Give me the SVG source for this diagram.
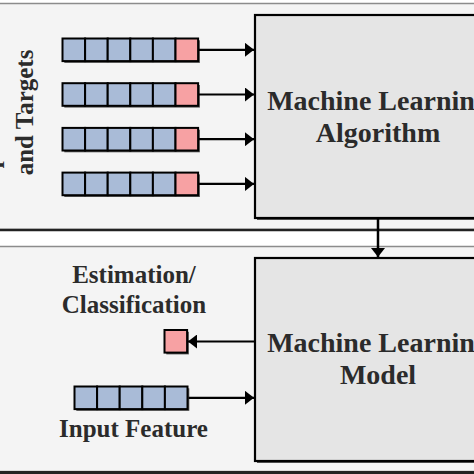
<svg xmlns="http://www.w3.org/2000/svg" width="474" height="474" viewBox="0 0 474 474">
<defs>
<style>
.panel{fill:#f4f4f4;stroke:#8c8c8c;stroke-width:1.5}
.pshadow{stroke:#222;stroke-width:2.5}
.box{fill:#e5e5e5;stroke:#000;stroke-width:2.2}
.cb{fill:#a9bbd7;stroke:#000;stroke-width:2}
.cr{fill:#f7a1a3;stroke:#000;stroke-width:2}
.sh{fill:#555}
.conn{stroke:#000;stroke-width:2.2;fill:none}
.t{font-family:"Liberation Serif","Times New Roman",serif;font-weight:bold;fill:#2b2b2b;text-anchor:middle}
.big{font-size:28px}
.sm{font-size:25px}
</style>
<marker id="ah" viewBox="0 0 10 10" refX="10" refY="5" markerWidth="9" markerHeight="14" markerUnits="userSpaceOnUse" orient="auto" preserveAspectRatio="none">
<path d="M0,0 L10,5 L0,10 Z" fill="#000"/>
</marker>
<g id="cell6">
<rect class="sh" x="1.8" y="1.8" width="135.6" height="22.6"/>
<rect class="cb" x="0" y="0" width="22.6" height="22.6"/>
<rect class="cb" x="22.6" y="0" width="22.6" height="22.6"/>
<rect class="cb" x="45.2" y="0" width="22.6" height="22.6"/>
<rect class="cb" x="67.8" y="0" width="22.6" height="22.6"/>
<rect class="cb" x="90.4" y="0" width="22.6" height="22.6"/>
<rect class="cr" x="113" y="0" width="22.6" height="22.6"/>
</g>
</defs>
<rect x="0" y="0" width="474" height="474" fill="#fff"/>
<g id="panel-training">
<rect class="panel" x="-10" y="3.5" width="494" height="226"/>
<line class="pshadow" x1="-10" y1="230" x2="484" y2="230"/>
<text class="t sm" transform="translate(-1.5,112.5) rotate(-90)">Input Features</text>
<text class="t sm" transform="translate(33,112.5) rotate(-90)">and Targets</text>
</g>
<g id="panel-inference">
<rect class="panel" x="-10" y="246.5" width="494" height="225"/>
<line class="pshadow" x1="-10" y1="473" x2="484" y2="473" style="stroke-width:4"/>
</g>
<g id="rows">
<use href="#cell6" x="62.5" y="38.5"/>
<use href="#cell6" x="62.5" y="83.2"/>
<use href="#cell6" x="62.5" y="127.9"/>
<use href="#cell6" x="62.5" y="172.6"/>
</g>
<g id="algorithm">
<rect class="sh" x="257" y="17" width="230" height="203"/>
<rect class="box" x="255" y="15" width="230" height="203"/>
<text class="t big" x="378" y="110">Machine Learning</text>
<text class="t big" x="378" y="141.5">Algorithm</text>
</g>
<g id="model">
<rect class="sh" x="257" y="260" width="230" height="203"/>
<rect class="box" x="255" y="258" width="230" height="203"/>
<text class="t big" x="378" y="351.5">Machine Learning</text>
<text class="t big" x="378" y="384">Model</text>
</g>
<g id="estimation">
<text class="t sm" x="134" y="283">Estimation/</text>
<text class="t sm" x="134" y="313">Classification</text>
<rect class="sh" x="166.3" y="331.8" width="22.6" height="22.6"/>
<rect class="cr" x="164.5" y="330" width="22.6" height="22.6"/>
</g>
<g id="input-feature">
<rect class="sh" x="76.3" y="388.3" width="113" height="22.6"/>
<rect class="cb" x="74.5" y="386.5" width="22.6" height="22.6"/>
<rect class="cb" x="97.1" y="386.5" width="22.6" height="22.6"/>
<rect class="cb" x="119.7" y="386.5" width="22.6" height="22.6"/>
<rect class="cb" x="142.3" y="386.5" width="22.6" height="22.6"/>
<rect class="cb" x="164.9" y="386.5" width="22.6" height="22.6"/>
<text class="t sm" x="133.5" y="436.5">Input Feature</text>
</g>
<g id="connectors">
<line class="conn" x1="199" y1="49.8" x2="254" y2="49.8" marker-end="url(#ah)"/>
<line class="conn" x1="199" y1="94.5" x2="254" y2="94.5" marker-end="url(#ah)"/>
<line class="conn" x1="199" y1="139.2" x2="254" y2="139.2" marker-end="url(#ah)"/>
<line class="conn" x1="199" y1="183.9" x2="254" y2="183.9" marker-end="url(#ah)"/>
<line class="conn" x1="378" y1="219" x2="378" y2="257" marker-end="url(#ah)" style="stroke-width:2.5"/>
<line class="conn" x1="254" y1="341.5" x2="188" y2="341.5" marker-end="url(#ah)"/>
<line class="conn" x1="188.5" y1="397.8" x2="254" y2="397.8" marker-end="url(#ah)"/>
</g>
</svg>
